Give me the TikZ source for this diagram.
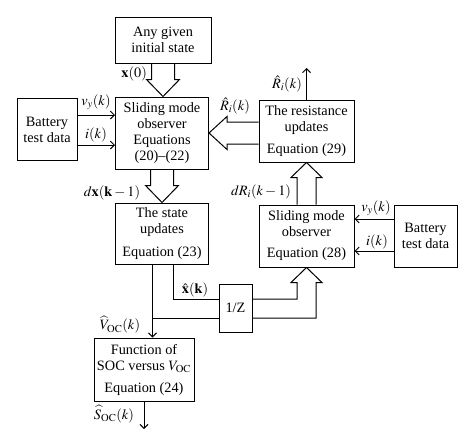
\documentclass[tikz,border=0pt]{standalone}
\usepackage{mathptmx}
\usepackage{fontspec}
\setmainfont{Liberation Serif}
\usetikzlibrary{arrows.meta,calc}
\newcommand\fs{\fontsize{14.3}{16}\selectfont}
\tikzset{
  box/.style={draw, line width=1pt, align=center, inner sep=1pt, font=\fs},
  lbl/.style={inner sep=0pt, font=\fs},
  sig/.style={line width=1pt, -{Straight Barb[length=4pt,width=8pt]}},
  wire/.style={line width=1pt},
  hollow/.style={line width=1pt, line join=miter},
}
\begin{document}
\begin{tikzpicture}[x=1pt,y=-1pt]
\useasboundingbox (0,0) rectangle (474,447);
% boxes
\node[box, minimum width=96pt, minimum height=46pt] (init) at (163,40) {Any given\\initial state};
\node[box, minimum width=60pt, minimum height=62pt] (batL) at (47,129.5) {Battery\\test data};
\node[box, minimum width=93pt, minimum height=72pt] (smo) at (162,133) {Sliding mode\\observer\\Equations\\(20)--(22)};
\node[box, minimum width=93pt, minimum height=61pt] (state) at (162,233.5) {The state\\updates\\[7pt]Equation (23)};
\node[box, minimum width=95pt, minimum height=62pt] (res) at (306.5,131) {The resistance\\updates\\[6pt]Equation (29)};
\node[box, minimum width=95pt, minimum height=62pt] (smoR) at (306.5,236) {Sliding mode\\observer\\[5pt]Equation (28)};
\node[box, minimum width=63pt, minimum height=62pt] (batR) at (425.5,236) {Battery\\test data};
\node[box, minimum width=33pt, minimum height=48pt] (z) at (235.5,308) {1/Z};
\node[box, minimum width=100pt, minimum height=63pt] (func) at (144,369.5) {Function of\\SOC versus $V_{\mathrm{OC}}$\\[6pt]Equation (24)};
% hollow arrows
\draw[hollow] let \p1=(init.south), \p2=(smo.north) in
  (\x1-11.5pt,\y1) -- (\x1-11.5pt,\y2+17pt) -- (\x1-16.5pt,\y2+17pt) -- (\x1,\y2)
  -- (\x1+16.5pt,\y2+17pt) -- (\x1+11.5pt,\y2+17pt) -- (\x1+11.5pt,\y1);
\draw[hollow] let \p1=(smo.south), \p2=(state.north) in
  (\x1-11.5pt,\y1) -- (\x1-11.5pt,\y2+17pt) -- (\x1-16.5pt,\y2+17pt) -- (\x1,\y2)
  -- (\x1+16.5pt,\y2+17pt) -- (\x1+11.5pt,\y2+17pt) -- (\x1+11.5pt,\y1);
\draw[hollow] let \p1=(res.west), \p2=(smo.east) in
  (\x1,\y2+11pt) -- (\x2+18pt,\y2+11pt) -- (\x2+18pt,\y2+16.5pt) -- (\x2,\y2)
  -- (\x2+18pt,\y2-16.5pt) -- (\x2+18pt,\y2-11pt) -- (\x1,\y2-11pt);
\draw[hollow] let \p1=(smoR.north), \p2=(res.south) in
  (\x1-9.5pt,\y1) -- (\x1-9.5pt,\y2-15pt) -- (\x1-15.5pt,\y2-15pt) -- (\x1,\y2)
  -- (\x1+15.5pt,\y2-15pt) -- (\x1+9.5pt,\y2-15pt) -- (\x1+9.5pt,\y1);
\draw[hollow] let \p1=(z.east), \p2=(smoR.south) in
  (\x1,\y1+9pt) -- (\x2-9.5pt,\y1+9pt) -- (\x2-9.5pt,\y2-15pt) -- (\x2-15.5pt,\y2-15pt)
  -- (\x2,\y2) -- (\x2+15.5pt,\y2-15pt) -- (\x2+9.5pt,\y2-15pt) -- (\x2+9.5pt,\y1-10pt) -- (\x1,\y1-10pt);
% signal arrows
\draw[sig] ($(batL.east)+(0,-14.5)$) coordinate (b1) -- (b1 -| smo.west);
\draw[sig] ($(batL.east)+(0,15.5)$) coordinate (b2) -- (b2 -| smo.west);
\draw[sig] ($(batR.west)+(0,-17)$) coordinate (b3) -- (b3 -| smoR.east);
\draw[sig] ($(batR.west)+(0,15)$) coordinate (b4) -- (b4 -| smoR.east);
\coordinate (rout) at (306.5,68);
\draw[sig] (res.north) -- (rout);
\coordinate (sout) at (144,429);
\draw[sig] (func.south) -- (sout);
\draw[wire] ($(state.south)+(11.5,0)$) |- ($(z.west)+(0,-9)$);
\draw[sig] ($(state.south)+(-9.5,0)$) coordinate (vs) -- (vs |- func.north);
\draw[wire] (vs) |- ($(z.west)+(0,10)$);
% labels
\node[lbl, anchor=east] (lx0) at (147,74) {$\mathbf{x}(0)$};
\node[lbl] (lvyL) at (96,102) {$v_y(k)$};
\node[lbl] (liL) at (96,135) {$i(k)$};
\node[lbl] (lRa) at (235,106) {$\hat{R}_i(k)$};
\node[lbl] (ldx) at (112,193) {$d\mathbf{x}(\mathbf{k}-1)$};
\node[lbl] (ldR) at (261,192) {$dR_i(k-1)$};
\node[lbl] (lRb) at (287,84) {$\hat{R}_i(k)$};
\node[lbl] (lvyR) at (376,208) {$v_y(k)$};
\node[lbl] (liR) at (377,242) {$i(k)$};
\node[lbl] (lxh) at (195,290) {$\hat{\mathbf{x}}(\mathbf{k})$};
\node[lbl] (lV) at (120,325) {$\widehat{V}_{\mathrm{OC}}(k)$};
\node[lbl] (lS) at (114,414) {$\widehat{S}_{\mathrm{OC}}(k)$};
\end{tikzpicture}
\end{document}
